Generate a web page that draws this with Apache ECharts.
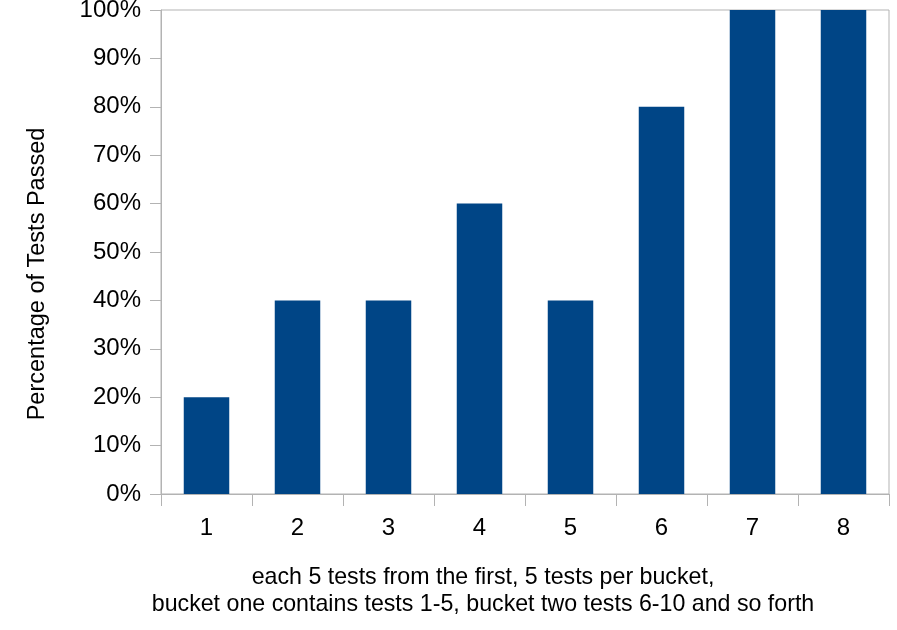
<!DOCTYPE html>
<html>
<head>
<meta charset="utf-8">
<script src="https://cdn.jsdelivr.net/npm/echarts@6/dist/echarts.min.js"></script>
<style>
  html, body { margin: 0; padding: 0; background: #ffffff; }
  #chart { width: 897px; height: 630px; }
</style>
</head>
<body>
<div id="chart"></div>
<script>
const categories = ['1', '2', '3', '4', '5', '6', '7', '8'];
const passedPercent = [20, 40, 40, 60, 40, 80, 100, 100];
const yAxisTitle = 'Percentage of Tests Passed';
const xAxisTitleLines = [
  'each 5 tests from the first, 5 tests per bucket,',
  'bucket one contains tests 1-5, bucket two tests 6-10 and so forth'
];

const chart = echarts.init(document.getElementById('chart'), null, { renderer: 'canvas' });
const font = '"Liberation Sans", Arial, sans-serif';
const axisColor = '#b3b3b3';

chart.setOption({
  animation: false,
  backgroundColor: '#ffffff',
  textStyle: { fontFamily: font },
  grid: {
    left: 161, right: 8, top: 10, bottom: 136,
    containLabel: false, outerBoundsMode: 'none',
    show: true, borderColor: axisColor, borderWidth: 1, backgroundColor: 'transparent'
  },
  xAxis: {
    type: 'category',
    data: categories,
    boundaryGap: true,
    axisLine: { lineStyle: { color: axisColor, width: 1 } },
    axisTick: { show: true, alignWithLabel: false, length: 12, lineStyle: { color: axisColor } },
    axisLabel: { color: '#000000', fontSize: 24, fontFamily: font, margin: 22 },
    splitLine: { show: false }
  },
  yAxis: {
    type: 'value',
    min: 0, max: 100, interval: 10,
    axisLine: { show: true, lineStyle: { color: axisColor, width: 1 } },
    axisTick: { show: true, length: 11, lineStyle: { color: axisColor } },
    axisLabel: { color: '#000000', fontSize: 24, fontFamily: font, margin: 20, formatter: '{value}%' },
    splitLine: { show: false }
  },
  series: [{
    type: 'bar',
    data: passedPercent,
    barWidth: '50%',
    itemStyle: { color: '#004586' }
  }],
  graphic: [
    {
      type: 'text',
      x: 38, y: 274,
      rotation: Math.PI / 2,
      style: {
        text: yAxisTitle, fill: '#000000', font: '23.5px ' + font,
        textAlign: 'center', textVerticalAlign: 'middle'
      }
    },
    {
      type: 'text',
      x: 483, y: 591,
      style: {
        text: xAxisTitleLines.join('\n'), fill: '#000000', font: '23.2px ' + font,
        textAlign: 'center', textVerticalAlign: 'middle', lineHeight: 27
      }
    }
  ]
});
</script>
</body>
</html>
